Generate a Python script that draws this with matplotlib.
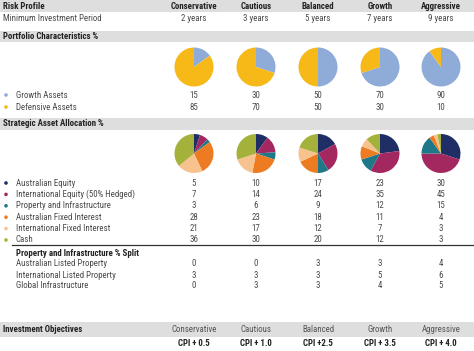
import matplotlib
matplotlib.use("Agg")
import matplotlib.pyplot as plt
from matplotlib.patches import Rectangle, Circle

plt.rcParams['font.family'] = ['Roboto Condensed', 'DejaVu Sans']

profiles = ['Conservative', 'Cautious', 'Balanced', 'Growth', 'Aggressive']
min_period = ['2 years', '3 years', '5 years', '7 years', '9 years']

char_labels = ['Growth Assets', 'Defensive Assets']
growth_assets = [15, 30, 50, 70, 90]
defensive_assets = [85, 70, 50, 30, 10]

saa_labels = ['Australian Equity', 'International Equity (50% Hedged)',
              'Property and Infrastructure', 'Australian Fixed Interest',
              'International Fixed Interest', 'Cash']
aus_equity = [5, 10, 17, 23, 30]
intl_equity = [7, 14, 24, 35, 45]
property_infra = [3, 6, 9, 12, 15]
aus_fixed = [28, 23, 18, 11, 4]
intl_fixed = [21, 17, 12, 7, 3]
cash = [36, 30, 20, 12, 3]

split_labels = ['Australian Listed Property', 'International Listed Property',
                'Global Infrastructure']
aus_listed_prop = [0, 0, 3, 3, 4]
intl_listed_prop = [3, 3, 3, 5, 6]
global_infra = [0, 3, 3, 4, 5]

objectives = ['CPI + 0.5', 'CPI + 1.0', 'CPI +2.5', 'CPI + 3.5', 'CPI + 4.0']

char_colors = ['#8fabd8', '#f7b918']
saa_colors = ['#1f2f66', '#a3285f', '#1f7888', '#ec7b22', '#f8c28e', '#a4b23b']

W, H = 474, 351
col_x = [194, 256, 318, 380, 441]
band = '#dedede'
dark = '#222222'
grey = '#4a4a4a'
fs = 6.4

fig = plt.figure(figsize=(W / 100, H / 100), dpi=100)
ax = fig.add_axes([0, 0, 1, 1])
ax.set_xlim(0, W)
ax.set_ylim(H, 0)
ax.axis('off')

def band_row(y0, y1):
    ax.add_patch(Rectangle((0, y0), W, y1 - y0, color=band, lw=0))

def txt(x, y, s, bold=False, ha='left', color=grey):
    ax.text(x, y, s, fontsize=fs, fontweight='bold' if bold else 'normal',
            ha=ha, va='center', color=dark if bold else color)

def pie_at(cx, cy, vals, colors, r=19.5):
    pax = fig.add_axes([(cx - r) / W, 1 - (cy + r) / H, 2 * r / W, 2 * r / H])
    pax.pie(vals, colors=colors, startangle=90, counterclock=False,
            wedgeprops=dict(linewidth=0))
    pax.set_xlim(-1, 1)
    pax.set_ylim(-1, 1)
    pax.axis('off')

# header
band_row(0, 12)
txt(3, 6.5, 'Risk Profile', bold=True)
txt(3, 18.5, 'Minimum Investment Period')
for x, p, m in zip(col_x, profiles, min_period):
    txt(x, 6.5, p, bold=True, ha='center')
    txt(x, 18.5, m, ha='center')

# portfolio characteristics
band_row(31, 42)
txt(3, 36.5, 'Portfolio Characteristics %', bold=True)
for i, x in enumerate(col_x):
    pie_at(x, 67, [growth_assets[i], defensive_assets[i]], char_colors)
char_rows = [growth_assets, defensive_assets]
for j, (lab, vals) in enumerate(zip(char_labels, char_rows)):
    y = 95 + j * 12
    ax.add_patch(Circle((6, y), 1.8, color=char_colors[j], lw=0))
    txt(16, y, lab)
    for x, v in zip(col_x, vals):
        txt(x, y, str(v), ha='center')

# strategic asset allocation
band_row(118, 130)
txt(3, 124, 'Strategic Asset Allocation %', bold=True)
saa_rows = [aus_equity, intl_equity, property_infra, aus_fixed, intl_fixed, cash]
for i, x in enumerate(col_x):
    pie_at(x, 153.5, [r[i] for r in saa_rows], saa_colors)
for j, (lab, vals) in enumerate(zip(saa_labels, saa_rows)):
    y = 183 + j * 11.4
    ax.add_patch(Circle((6, y), 1.8, color=saa_colors[j], lw=0))
    txt(16, y, lab)
    for x, v in zip(col_x, vals):
        txt(x, y, str(v), ha='center')
ax.plot([12, W], [244.5, 244.5], color='#333333', lw=0.9)

# property split
txt(16, 253, 'Property and Infrastructure % Split', bold=True)
split_rows = [aus_listed_prop, intl_listed_prop, global_infra]
for j, (lab, vals) in enumerate(zip(split_labels, split_rows)):
    y = 264 + j * 11
    txt(16, y, lab)
    for x, v in zip(col_x, vals):
        txt(x, y, str(v), ha='center')

# investment objectives
band_row(322, 337)
txt(3, 329.5, 'Investment Objectives', bold=True)
for x, p, o in zip(col_x, profiles, objectives):
    txt(x, 329.5, p, ha='center', color='#555555')
    txt(x, 344, o, bold=True, ha='center')

fig.savefig('out.png', dpi=100)
